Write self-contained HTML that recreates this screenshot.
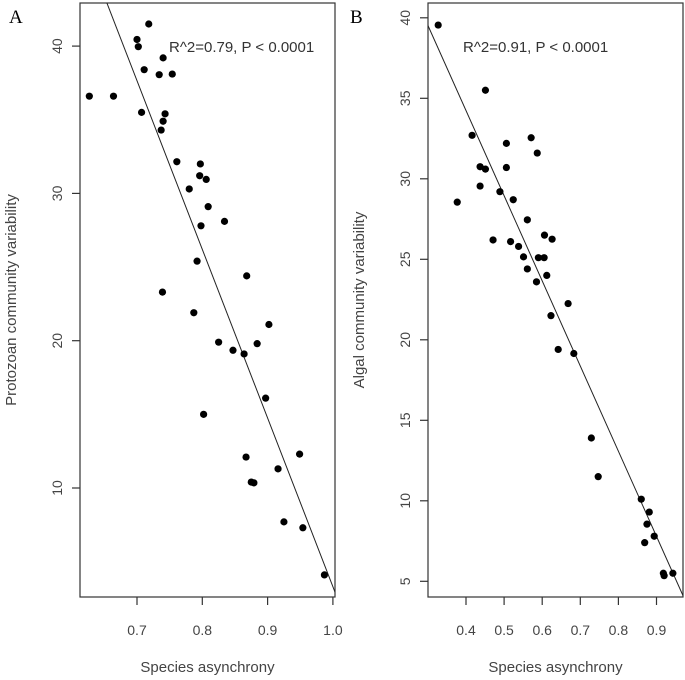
<!DOCTYPE html>
<html><head><meta charset="utf-8"><style>
html,body{margin:0;padding:0;background:#fff}
svg{display:block;font-family:"Liberation Sans",sans-serif}
</style></head><body>
<svg id="chart" width="685" height="680" viewBox="0 0 685 680" xmlns="http://www.w3.org/2000/svg"></svg>
<script>
// Panel A data
const aX = [0.718,0.700,0.702,0.740,0.711,0.734,0.754,0.627,0.664,0.707,0.743,0.740,0.737,0.761,0.797,0.796,0.806,0.780,0.809,0.834,0.798,0.792,0.868,0.739,0.787,0.902,0.825,0.884,0.847,0.864,0.897,0.802,0.867,0.949,0.916,0.875,0.879,0.925,0.954,0.987];
const aY = [41.5,40.45,39.96,39.2,38.4,38.06,38.1,36.6,36.6,35.5,35.4,34.9,34.3,32.15,32.0,31.2,30.95,30.3,29.1,28.1,27.8,25.4,24.4,23.3,21.9,21.1,19.9,19.8,19.35,19.1,16.1,15.0,12.1,12.3,11.3,10.4,10.35,7.7,7.3,4.1];
const aXTicks = [0.7,0.8,0.9,1.0];
const aXTickLabels = ["0.7","0.8","0.9","1.0"];
const aYTicks = [10,20,30,40];
const aFit = [117.8,-114.5];
// Panel B data
const bX = [0.327,0.451,0.416,0.571,0.506,0.587,0.437,0.451,0.506,0.437,0.489,0.377,0.524,0.561,0.606,0.626,0.471,0.517,0.538,0.551,0.590,0.605,0.561,0.612,0.585,0.668,0.623,0.642,0.683,0.729,0.747,0.860,0.881,0.875,0.894,0.869,0.918,0.920,0.943];
const bY = [39.55,35.5,32.7,32.55,32.2,31.6,30.75,30.6,30.7,29.55,29.2,28.55,28.7,27.45,26.5,26.25,26.2,26.1,25.8,25.15,25.1,25.1,24.4,24.0,23.6,22.25,21.5,19.4,19.15,13.9,11.5,10.1,9.3,8.55,7.8,7.4,5.5,5.35,5.5];
const bXTicks = [0.4,0.5,0.6,0.7,0.8,0.9];
const bXTickLabels = ["0.4","0.5","0.6","0.7","0.8","0.9"];
const bYTicks = [5,10,15,20,25,30,35,40];
const bFit = [55.4,-52.9];

const NS="http://www.w3.org/2000/svg";
const svg=document.getElementById('chart');
function mk(tag,attrs,parent){const e=document.createElementNS(NS,tag);for(const k in attrs)e.setAttribute(k,attrs[k]);(parent||svg).appendChild(e);return e;}

function panel(cfg){
  const g=mk('g',{});
  
  
  const sx=v=>cfg.x0px+(v-cfg.x0v)*cfg.xs;
  const sy=v=>cfg.y0px-(v-cfg.y0v)*cfg.ys;
  const clip=mk('clipPath',{id:cfg.name+'-clip'},g);
  mk('rect',{x:cfg.L,y:cfg.T,width:cfg.R-cfg.L,height:cfg.B-cfg.T},clip);
  const box=mk('rect',{x:cfg.L,y:cfg.T,width:cfg.R-cfg.L,height:cfg.B-cfg.T,fill:'none',stroke:'#333','stroke-width':1.2},g);
  
  
  cfg.xt.forEach((v,i)=>{
    const x=sx(v);
    const t=mk('line',{x1:x,x2:x,y1:cfg.B,y2:cfg.B+8,stroke:'#333','stroke-width':1.2},g);
    
    
    const l=mk('text',{x:x,y:635,'text-anchor':'middle','font-size':14,fill:'#444'},g);
    l.textContent=cfg.xl[i];
    
    
  });
  cfg.yt.forEach(v=>{
    const y=sy(v);
    const t=mk('line',{x1:cfg.L-8,x2:cfg.L,y1:y,y2:y,stroke:'#333','stroke-width':1.2},g);
    
    
    const lx=cfg.L-18;
    const l=mk('text',{x:lx,y:y,'text-anchor':'middle','font-size':14,fill:'#444',transform:`rotate(-90 ${lx} ${y})`},g);
    l.textContent=String(v);
    
    
  });
  const xa=cfg.xRange[0], xb=cfg.xRange[1];
  const fl=mk('line',{x1:sx(xa),y1:sy(cfg.fit[0]+cfg.fit[1]*xa),x2:sx(xb),y2:sy(cfg.fit[0]+cfg.fit[1]*xb),stroke:'#222','stroke-width':1,'clip-path':`url(#${cfg.name}-clip)`},g);
  
  
  cfg.px.forEach((v,i)=>{
    const c=mk('circle',{cx:sx(v),cy:sy(cfg.py[i]),r:3.6,fill:'#000'},g);
    
    
  });
  const an=mk('text',{x:cfg.annX,y:52,'font-size':15,fill:'#333'},g);
  an.textContent=cfg.ann;
  
  
  const xt=mk('text',{x:(cfg.L+cfg.R)/2,y:672,'text-anchor':'middle','font-size':15,fill:'#444'},g);
  xt.textContent='Species asynchrony';
  
  
  const yx=cfg.L-64, yy=300;
  const yt=mk('text',{x:yx,y:yy,'text-anchor':'middle','font-size':15,fill:'#444',transform:`rotate(-90 ${yx} ${yy})`},g);
  yt.textContent=cfg.ytitle;
  
  
  const pl=mk('text',{x:cfg.letterX,y:23,'font-size':19,fill:'#000','font-family':'Liberation Serif, serif'},g);
  pl.textContent=cfg.letter;
  
  
}

panel({name:'panel-a',L:80,R:335,T:3,B:597,x0px:137,x0v:0.7,xs:653,y0px:488,y0v:10,ys:14.73,
  xt:aXTicks,xl:aXTickLabels,yt:aYTicks,fit:aFit,xRange:[0.6,1.05],px:aX,py:aY,
  ann:'R^2=0.79, P < 0.0001',annX:169,ytitle:'Protozoan community variability',letter:'A',letterX:9});
panel({name:'panel-b',L:428,R:683,T:3,B:597,x0px:466,x0v:0.4,xs:381,y0px:581.3,y0v:5,ys:16.1,
  xt:bXTicks,xl:bXTickLabels,yt:bYTicks,fit:bFit,xRange:[0.28,1.0],px:bX,py:bY,
  ann:'R^2=0.91, P < 0.0001',annX:463,ytitle:'Algal community variability',letter:'B',letterX:350});
</script>
</body></html>
